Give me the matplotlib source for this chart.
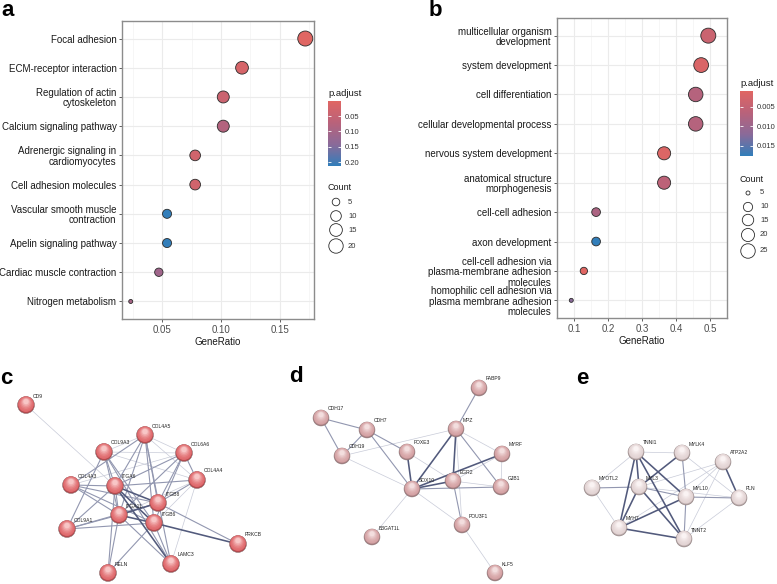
import numpy as np
import matplotlib.pyplot as plt
from matplotlib.colors import LinearSegmentedColormap, Normalize, to_rgb
from matplotlib.cm import ScalarMappable
from matplotlib.patches import Circle

plt.rcParams['font.family'] = ['Liberation Sans', 'DejaVu Sans']

# ---- panel a: KEGG
a_terms = ["Focal adhesion", "ECM-receptor interaction",
           "Regulation of actin\ncytoskeleton", "Calcium signaling pathway",
           "Adrenergic signaling in\ncardiomyocytes", "Cell adhesion molecules",
           "Vascular smooth muscle\ncontraction", "Apelin signaling pathway",
           "Cardiac muscle contraction", "Nitrogen metabolism"]
a_ratio = [0.172, 0.118, 0.102, 0.102, 0.078, 0.078, 0.054, 0.054, 0.047, 0.023]
a_count = [22, 15, 13, 13, 10, 10, 7, 7, 6, 3]
a_padj = [0.001, 0.02, 0.04, 0.08, 0.03, 0.03, 0.213, 0.213, 0.11, 0.10]
a_xticks = [0.05, 0.10, 0.15]
a_xlabels = ["0.05", "0.10", "0.15"]
a_cticks = [0.05, 0.10, 0.15, 0.20]
a_clabels = ["0.05", "0.10", "0.15", "0.20"]
a_sticks = [5, 10, 15, 20]

# ---- panel b: GO
b_terms = ["multicellular organism\ndevelopment", "system development",
           "cell differentiation", "cellular developmental process",
           "nervous system development", "anatomical structure\nmorphogenesis",
           "cell-cell adhesion", "axon development",
           "cell-cell adhesion via\nplasma-membrane adhesion\nmolecules",
           "homophilic cell adhesion via\nplasma membrane adhesion\nmolecules"]
b_ratio = [0.495, 0.474, 0.458, 0.458, 0.365, 0.365, 0.165, 0.165, 0.129, 0.092]
b_count = [27, 26, 25, 25, 20, 20, 9, 9, 7, 5]
b_padj = [0.004, 0.002, 0.007, 0.007, 0.0015, 0.006, 0.008, 0.0176, 0.0009, 0.012]
b_xticks = [0.1, 0.2, 0.3, 0.4, 0.5]
b_xlabels = ["0.1", "0.2", "0.3", "0.4", "0.5"]
b_cticks = [0.005, 0.010, 0.015]
b_clabels = ["0.005", "0.010", "0.015"]
b_sticks = [5, 10, 15, 20, 25]

# ---- redes (posiciones, en pixeles)
c_genes = ["CD9", "COL4A5", "COL9A3", "COL6A6", "COL4A4", "COL4A3", "ITGA6",
           "ITGB8", "ITGA11", "ITGB6", "COL9A1", "PRKCB", "LAMC3", "RELN"]
c_x = [26, 145, 104, 184, 197, 71, 115, 158, 119, 154, 67, 238, 171, 108]
c_y = [405, 435, 452, 453, 480, 485, 486, 503, 515, 523, 529, 544, 564, 573]
c_edges = [("CD9", "ITGA6", 1), ("COL4A5", "COL9A3", 1), ("COL4A5", "COL6A6", 1),
           ("COL4A5", "COL4A4", 1), ("COL4A5", "COL4A3", 2), ("COL4A5", "ITGA6", 2),
           ("COL4A5", "ITGA11", 2), ("COL4A5", "ITGB8", 2), ("COL4A5", "ITGB6", 2),
           ("COL4A5", "LAMC3", 2), ("COL9A3", "COL9A1", 2), ("COL9A3", "ITGA6", 2),
           ("COL9A3", "ITGA11", 2), ("COL9A3", "ITGB6", 2), ("COL9A3", "COL6A6", 1),
           ("COL9A3", "COL4A4", 1), ("COL9A3", "LAMC3", 2), ("COL6A6", "ITGA6", 2),
           ("COL6A6", "ITGB8", 2), ("COL6A6", "ITGA11", 2), ("COL6A6", "ITGB6", 2),
           ("COL6A6", "COL4A4", 2), ("COL6A6", "COL4A3", 1), ("COL4A4", "ITGA6", 2),
           ("COL4A4", "ITGB8", 2), ("COL4A4", "ITGA11", 1), ("COL4A4", "ITGB6", 1),
           ("COL4A4", "LAMC3", 1), ("COL4A3", "ITGA6", 2), ("COL4A3", "ITGA11", 2),
           ("COL4A3", "ITGB8", 2), ("COL4A3", "ITGB6", 2), ("ITGA6", "ITGB8", 3),
           ("ITGA6", "ITGA11", 2), ("ITGA6", "ITGB6", 3), ("ITGA6", "RELN", 2),
           ("ITGA6", "LAMC3", 3), ("ITGA6", "COL9A1", 2), ("ITGB8", "ITGA11", 3),
           ("ITGB8", "PRKCB", 2), ("ITGA11", "ITGB6", 3), ("ITGA11", "COL9A1", 2),
           ("ITGA11", "RELN", 2), ("ITGA11", "LAMC3", 2), ("ITGB6", "PRKCB", 3),
           ("ITGB6", "COL9A1", 2), ("ITGB6", "LAMC3", 2), ("ITGB6", "RELN", 2),
           ("COL9A1", "ITGB8", 2)]

d_genes = ["FABP9", "CDH17", "CDH7", "MPZ", "CDH19", "FOXE3", "MYRF", "EGR2",
           "SOX10", "GJB1", "POU3F1", "B3GAT1L", "KLF5"]
d_x = [479, 321, 367, 456, 342, 407, 502, 453, 412, 501, 462, 372, 495]
d_y = [388, 418, 430, 429, 456, 452, 454, 481, 489, 487, 525, 537, 573]
d_edges = [("CDH17", "CDH7", 2), ("CDH17", "CDH19", 2), ("CDH7", "CDH19", 2),
           ("CDH7", "FOXE3", 2), ("CDH7", "SOX10", 2), ("CDH19", "SOX10", 1),
           ("CDH19", "MPZ", 1), ("MPZ", "FABP9", 2), ("MPZ", "SOX10", 3),
           ("MPZ", "EGR2", 3), ("MPZ", "MYRF", 1), ("MPZ", "GJB1", 2),
           ("MPZ", "POU3F1", 1), ("FOXE3", "SOX10", 3), ("FOXE3", "EGR2", 1),
           ("SOX10", "EGR2", 3), ("SOX10", "MYRF", 3), ("SOX10", "GJB1", 2),
           ("SOX10", "POU3F1", 1), ("SOX10", "B3GAT1L", 1), ("EGR2", "GJB1", 1),
           ("EGR2", "POU3F1", 2), ("EGR2", "MYRF", 1), ("MYRF", "GJB1", 1),
           ("POU3F1", "KLF5", 1)]

e_genes = ["TNNI1", "MYLK4", "ATP2A2", "MYOTL2", "MYL3", "MYL10", "PLN", "MYH7", "TNNT2"]
e_x = [636, 682, 723, 592, 639, 686, 739, 619, 684]
e_y = [452, 453, 462, 488, 487, 497, 498, 528, 539]
e_edges = [("TNNI1", "MYLK4", 1), ("TNNI1", "MYOTL2", 1), ("TNNI1", "MYL3", 3),
           ("TNNI1", "MYH7", 3), ("TNNI1", "TNNT2", 3), ("TNNI1", "MYL10", 3),
           ("MYLK4", "MYL3", 3), ("MYLK4", "MYL10", 2), ("MYLK4", "PLN", 1),
           ("ATP2A2", "PLN", 3), ("ATP2A2", "MYL3", 1), ("ATP2A2", "MYH7", 1),
           ("ATP2A2", "TNNT2", 1), ("ATP2A2", "MYL10", 1), ("MYOTL2", "MYL3", 2),
           ("MYOTL2", "MYH7", 1), ("MYL3", "MYL10", 2), ("MYL3", "MYH7", 3),
           ("MYL3", "TNNT2", 3), ("MYL3", "PLN", 1), ("MYL10", "PLN", 2),
           ("MYL10", "TNNT2", 2), ("MYL10", "MYH7", 3), ("MYH7", "TNNT2", 3),
           ("PLN", "TNNT2", 1)]

W, H = 777, 584
cmap = LinearSegmentedColormap.from_list("padj", ["#e06663", "#b9627a", "#8a6a99", "#327eba"])


def diam(count, cmin, cmax, dmin=4.0, dmax=15.0):
    # tamano como ggplot scale_size (area)
    t = (np.asarray(count, dtype=float) - cmin) / (cmax - cmin)
    return dmin + (dmax - dmin) * np.sqrt(np.clip(t, 0, 1))


def pxbox(x0, y0, x1, y1):
    return [x0 / W, 1 - y1 / H, (x1 - x0) / W, (y1 - y0) / H]


def dotplot(box, terms, ratio, count, padj, xticks, xlabels):
    ax = fig.add_axes(pxbox(*box))
    n = len(terms)
    y = np.arange(n)[::-1]
    d = diam(count, min(count), max(count))
    ax.scatter(ratio, y, s=(d * 0.72) ** 2, c=padj, cmap=cmap,
               vmin=min(padj), vmax=max(padj), edgecolors="#2b2b2b",
               linewidths=0.6, zorder=3)
    ax.set_yticks(y)
    ax.set_yticklabels(terms, fontsize=7, color="#1a1a1a", linespacing=1.05)
    ax.set_ylim(-0.6, n - 0.4)
    r = max(ratio) - min(ratio)
    ax.set_xlim(min(ratio) - 0.05 * r, max(ratio) + 0.05 * r)
    ax.set_xticks(xticks)
    ax.set_xticklabels(xlabels, fontsize=7, color="#4d4d4d")
    step = xticks[1] - xticks[0]
    minor = np.arange(xticks[0] - step / 2, xticks[-1] + step, step)
    ax.set_xticks(minor, minor=True)
    ax.grid(True, which="major", color="#ebebeb", lw=0.8, zorder=0)
    ax.grid(True, which="minor", axis="x", color="#f3f3f3", lw=0.5, zorder=0)
    ax.set_axisbelow(True)
    ax.tick_params(which="major", length=2.5, width=0.6, color="#444444", pad=1.5)
    ax.tick_params(which="minor", length=0)
    for s in ax.spines.values():
        s.set_color("#8c8c8c")
        s.set_linewidth(1.0)
    ax.set_xlabel("GeneRatio", fontsize=7, color="#1a1a1a", labelpad=2)
    return ax


def colorbar(box, padj, ticks, labels):
    cax = fig.add_axes(pxbox(*box))
    sm = ScalarMappable(norm=Normalize(min(padj), max(padj)), cmap=cmap)
    cb = fig.colorbar(sm, cax=cax)
    cb.outline.set_visible(False)
    cax.invert_yaxis()
    cb.set_ticks(ticks)
    cb.set_ticklabels(labels)
    cax.tick_params(direction="in", length=2.5, width=0.6, color="white",
                    labelcolor="#333333", labelsize=5.5, left=True, right=True, pad=3)


fig = plt.figure(figsize=(7.77, 5.84), dpi=100)

dotplot((122, 21, 314, 319), a_terms, a_ratio, a_count, a_padj, a_xticks, a_xlabels)
dotplot((557, 18, 727, 318), b_terms, b_ratio, b_count, b_padj, b_xticks, b_xlabels)
colorbar((328, 101, 341, 166), a_padj, a_cticks, a_clabels)
colorbar((740, 91, 753, 156), b_padj, b_cticks, b_clabels)

# capa en pixeles para leyendas, letras y redes
ov = fig.add_axes([0, 0, 1, 1])
ov.set_xlim(0, W)
ov.set_ylim(H, 0)
ov.axis("off")

# leyendas de tamano
for (tx, ty, cx, ys, ticks, cnt) in [(328, 93, 336, [202, 216, 230, 246], a_sticks, a_count),
                                     (740, 84, 748, [193, 207, 220, 235, 251], b_sticks, b_count)]:
    ov.text(tx, ty, "p.adjust", fontsize=6.8, color="#1a1a1a", va="center", ha="left")
    ov.text(tx, ys[0] - 14, "Count", fontsize=6.5, color="#1a1a1a", va="center", ha="left")
    dd = diam(ticks, min(cnt), max(cnt))
    ov.scatter([cx] * len(ticks), ys, s=(dd * 0.72) ** 2, facecolors="white",
               edgecolors="#2b2b2b", linewidths=0.6)
    for yy, t in zip(ys, ticks):
        ov.text(cx + 12, yy, str(t), fontsize=5.5, color="#333333", va="center", ha="left")

# letras de panel
for lt, lx, ly in [("a", 1, 11), ("b", 429, 10), ("c", 0, 378), ("d", 289, 377), ("e", 576, 378)]:
    ov.text(lx, ly, lt, fontsize=16, fontweight="bold", va="center", ha="left", color="black")

edge_style = {1: ("#c8cbd8", 0.5), 2: ("#9297b0", 0.8), 3: ("#525a7c", 1.15)}


def mix(c1, c2, t):
    a, b = np.array(to_rgb(c1)), np.array(to_rgb(c2))
    return tuple(a + (b - a) * t)


def network(genes, xs, ys, edges, r, base, light, dark):
    pos = {g: (x, y) for g, x, y in zip(genes, xs, ys)}
    for g1, g2, w in edges:
        col, lw = edge_style[w]
        ov.plot([pos[g1][0], pos[g2][0]], [pos[g1][1], pos[g2][1]],
                color=col, lw=lw, zorder=2 + w * 0.1, solid_capstyle="round")
    for g in genes:
        x, y = pos[g]
        ov.add_patch(Circle((x, y), r, fc=dark, ec="#7a6a6a", lw=0.3, zorder=5))
        for k in range(6):
            t = k / 5
            ov.add_patch(Circle((x, y - r * 0.1 - r * 0.3 * t), r * (0.92 - 0.6 * t),
                                fc=mix(base, light, t ** 1.5), ec="none", zorder=6 + k * 0.01))
        ov.text(x + 7, y - 9, g, fontsize=3.6, color="#222222", va="center", ha="left", zorder=8)


network(c_genes, c_x, c_y, c_edges, 8.5, "#e06b6e", "#f8c6c6", "#b44a4e")
network(d_genes, d_x, d_y, d_edges, 8.0, "#d5a3a5", "#f3dede", "#a98083")
network(e_genes, e_x, e_y, e_edges, 8.0, "#e3d4d4", "#faf3f3", "#b8a8a8")

fig.savefig("out.png", dpi=100)
